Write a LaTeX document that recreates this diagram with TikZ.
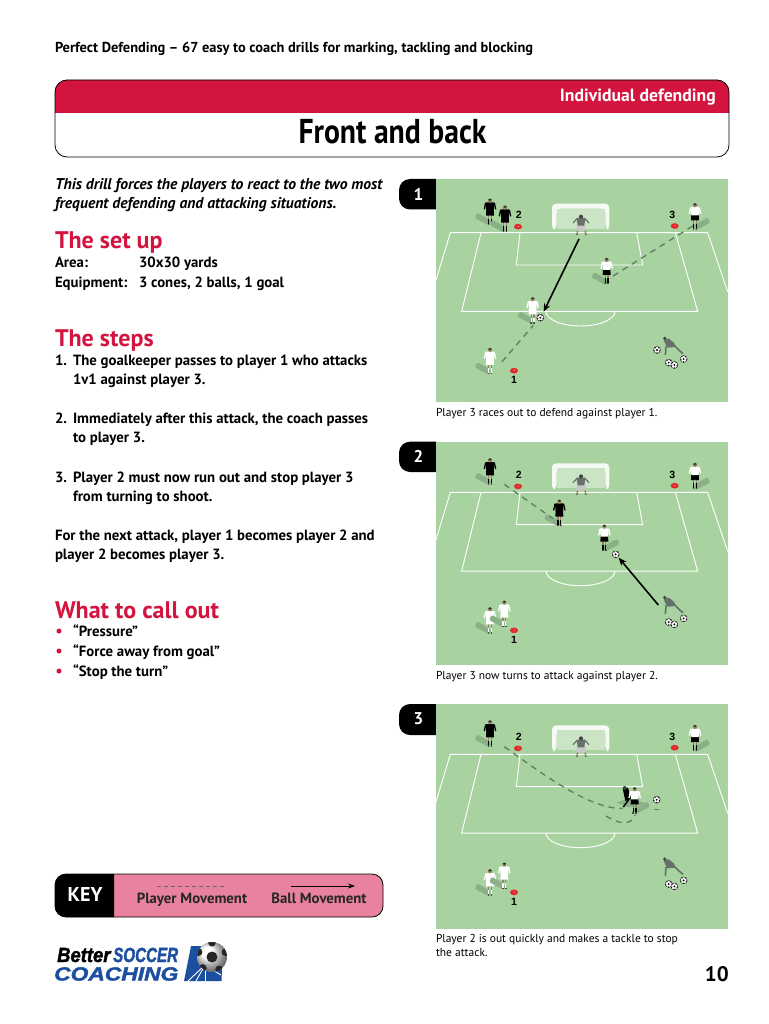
\documentclass[tikz,border=0pt]{standalone}
\usepackage{fontspec}
\setmainfont{PT Sans}
\newfontfamily\condfont[FakeStretch=0.86]{PT Sans}
\newfontfamily\logofa[FakeBold=1.6,FakeStretch=0.9]{Liberation Sans}
\newfontfamily\logofb[FakeBold=1.6,FakeStretch=0.74]{Liberation Sans}
\newfontfamily\logofc[FakeBold=2,FakeStretch=1.2]{Liberation Sans}
\newfontfamily\numfont{Liberation Sans}
\usetikzlibrary{arrows.meta,shapes.geometric}
\definecolor{brandred}{HTML}{D2143F}
\definecolor{keypink}{HTML}{E8829F}
\definecolor{pitch}{HTML}{A8D2A0}
\definecolor{shadowc}{HTML}{8AB088}
\definecolor{skin}{HTML}{A08068}
\definecolor{kitgrey}{HTML}{66706A}
\definecolor{dashc}{HTML}{5E8463}
\definecolor{logoblue}{HTML}{1C4FA0}
\definecolor{netc}{HTML}{CBE4C6}
\definecolor{conec}{HTML}{E5262B}
\tikzset{
 x=1pt,y=-1pt,
 txt/.style={anchor=base west,inner sep=0pt,outer sep=0pt},
 bodytxt/.style={txt,font=\fontsize{14.8}{15}\selectfont\bfseries},
 italtxt/.style={txt,font=\fontsize{15.6}{16}\selectfont\bfseries\itshape},
 headtxt/.style={txt,text=brandred,font=\fontsize{24}{24}\selectfont\bfseries},
 captxt/.style={txt,font=\fontsize{11.5}{12}\selectfont},
 numtxt/.style={inner sep=0pt,font=\numfont\fontsize{10.5}{11}\selectfont\bfseries},
 badgenum/.style={inner sep=0pt,text=white,font=\fontsize{17}{17}\selectfont\bfseries},
 keytxt/.style={anchor=base,inner sep=0pt,font=\fontsize{14.8}{15}\selectfont\bfseries,text=black!85},
 fieldline/.style={draw=white,line width=0.95pt,line join=miter},
 movedash/.style={draw=dashc,line width=1.4pt,dash pattern=on 6pt off 5pt},
 passarrow/.style={draw=black,line width=1.6pt,-{Stealth[length=8pt,width=6.5pt]}},
 bullet/.style={circle,fill=brandred,inner sep=0pt,minimum size=5pt},
}
% player: x, y (feet), shirt, shorts, shadow direction (+1/-1), sock colour
\newcommand\plyr[6]{\begin{scope}[shift={(#1,#2)}]
 \fill[shadowc,rounded corners=2pt] (0,4) -- (#5*46,-20) -- (#5*38,-36) -- (#5*-4,-12) -- cycle;
 \draw[skin,line width=1.5pt] (-4,-32) -- (-4,-14);
 \draw[skin,line width=1.5pt] (4,-32) -- (4,-14);
 \draw[#6,line width=1.5pt] (-4,-17) -- (-4,-2);
 \draw[#6,line width=1.5pt] (4,-17) -- (4,-2);
 \fill[black!70] (-7,-3) rectangle (-2,1);
 \fill[black!70] (2,-3) rectangle (7,1);
 \fill[#4] (-11,-46) -- (11,-46) -- (12,-27) -- (1,-27) -- (0,-31) -- (-1,-27) -- (-12,-27) -- cycle;
 \fill[#3] (-13,-67) -- (13,-67) -- (11,-42) -- (-11,-42) -- cycle;
 \draw[#3,line width=1.3pt] (-13,-65) -- (-17,-46);
 \draw[#3,line width=1.3pt] (13,-65) -- (17,-46);
 \fill[skin] (0,-72) circle (6);
 \fill[black!80] (0,-75) ellipse (5.5 and 3.5);
\end{scope}}
\newcommand\keeper[2]{\begin{scope}[shift={(#1,#2)}]
 \draw[skin,line width=1.4pt] (-12,0) -- (-10,-16);
 \draw[skin,line width=1.4pt] (14,0) -- (12,-16);
 \fill[black!60] (-15,-2) rectangle (-9,1);
 \fill[black!60] (11,-2) rectangle (17,1);
 \fill[black!22] (-12,-30) -- (12,-30) -- (15,-12) -- (-15,-12) -- cycle;
 \fill[kitgrey] (-13,-50) -- (13,-50) -- (10,-27) -- (-10,-27) -- cycle;
 \draw[kitgrey,line width=1.2pt] (-12,-48) -- (-24,-35);
 \draw[kitgrey,line width=1.2pt] (12,-48) -- (24,-35);
 \fill[black!75] (0,-54) circle (6);
\end{scope}}
\newcommand\coach[2]{\begin{scope}[shift={(#1,#2)}]
 \fill[kitgrey,rounded corners=1pt] (-3,3) -- (12,0) -- (30,14) -- (33,26) -- (8,28) -- cycle;
 \draw[kitgrey,line width=1.6pt] (28,20) -- (42,34) -- (56,46);
 \draw[kitgrey,line width=1.6pt] (5,24) -- (3,50);
 \fill[black!75] (1,0) circle (5);
\end{scope}}
\newcommand\ballat[2]{\begin{scope}[shift={(#1,#2)}]
 \fill[white] (0,0) circle (10.5);
 \draw[black,line width=0.35pt] (0,0) circle (10.5);
 \fill[black] (0,0) circle (3.2);
 \foreach \a in {90,162,234,306,18}{\fill[black] (\a:8.5) circle (2);}
\end{scope}}
\newcommand\coneat[2]{\begin{scope}[shift={(#1,#2)}]
 \fill[conec] (0,0) ellipse (12 and 8.5);
 \fill[white!80!red] (1,-1) circle (1.8);
\end{scope}}
\newcommand\pitchbase[3]{% name prefix, top, bottom (local)
 \fill[pitch] (120,#2) rectangle (995,#3);
 \fill[white!88!pitch,rounded corners=4pt] (468,180) -- (468,101) -- (640,101) -- (640,180) -- (628,176) -- (628,116) -- (482,116) -- (482,176) -- cycle;
 \fill[netc] (482,116) rectangle (628,176);
 \draw[fieldline] (120,330) -- (163,188) -- (935,188) -- (995,365);
 \draw[fieldline] (255,188) -- (197,424) -- (905,424) -- (838,188);
 \draw[fieldline] (372,188) -- (361,285) -- (740,285) -- (722,188);
 \draw[fieldline] (450,424) arc[start angle=180,end angle=0,x radius=103.5,y radius=44];
 \coneat{366}{170}\coneat{836}{168}
 \node[numtxt] (#1two) at (368,136) {2};
 \node[numtxt] (#1three) at (829,136) {3};
 \node[numtxt] (#1one) at (354,631) {1};
 \coneat{354}{602}
 \plyr{897}{178}{white}{black}{1}{black}
 \keeper{555}{194}
 \plyr{282}{164}{black}{black}{-1}{black}
}
\begin{document}
\begin{tikzpicture}
\useasboundingbox (0,0) rectangle (768,1024);
\fill[white] (0,0) rectangle (768,1024);

\node[txt,font=\fontsize{14.4}{15}\selectfont\bfseries] (runhead) at (55,53) {Perfect Defending -- 67 easy to coach drills for marking, tackling and blocking};

% banner
\begin{scope}
 \clip (50,75) rectangle (735,113);
 \fill[brandred,rounded corners=12pt] (55,80) rectangle (729,157);
\end{scope}
\draw[black,line width=0.8pt,rounded corners=12pt] (55,80) rectangle (729,157);
\node[anchor=base east,inner sep=0pt,text=white,font=\fontsize{17.7}{18}\selectfont\bfseries] (section) at (716,102) {Individual defending};
\node[anchor=base,inner sep=0pt,font=\condfont\fontsize{34.5}{35}\selectfont\bfseries] (title) at (392.5,144) {Front and back};

% left column
\node[italtxt] (intro1) at (55,190) {This drill forces the players to react to the two most};
\node[italtxt] (intro2) at (55,209) {frequent defending and attacking situations.};
\node[headtxt] (setup) at (55,248) {The set up};
\node[bodytxt] (area) at (55,267) {Area:};
\node[bodytxt] (areav) at (139,267) {30x30 yards};
\node[bodytxt] (equip) at (55,287) {Equipment:};
\node[bodytxt] (equipv) at (139,287) {3 cones, 2 balls, 1 goal};
\node[headtxt] (steps) at (55,346) {The steps};
\node[bodytxt] (n1) at (55,365) {1.};
\node[bodytxt] (s1a) at (73,365) {The goalkeeper passes to player 1 who attacks};
\node[bodytxt] (s1b) at (73,384) {1v1 against player 3.};
\node[bodytxt] (n2) at (55,423) {2.};
\node[bodytxt] (s2a) at (73,423) {Immediately after this attack, the coach passes};
\node[bodytxt] (s2b) at (73,442) {to player 3.};
\node[bodytxt] (n3) at (55,482) {3.};
\node[bodytxt] (s3a) at (73,482) {Player 2 must now run out and stop player 3};
\node[bodytxt] (s3b) at (73,501) {from turning to shoot.};
\node[bodytxt] (nx1) at (55,540) {For the next attack, player 1 becomes player 2 and};
\node[bodytxt] (nx2) at (55,559) {player 2 becomes player 3.};
\node[headtxt] (call) at (55,618) {What to call out};
\node[bullet] (b1) at (59,631) {};
\node[bullet] (b2) at (59,651) {};
\node[bullet] (b3) at (59,671) {};
\node[bodytxt] (c1) at (73,636) {“Pressure”};
\node[bodytxt] (c2) at (73,656) {“Force away from goal”};
\node[bodytxt] (c3) at (73,676) {“Stop the turn”};

% key
\fill[keypink,rounded corners=11pt] (55,874) rectangle (383,917);
\fill[black] (114,874) [rounded corners=11pt] -- (55,874) -- (55,917) [sharp corners] -- (114,917) -- cycle;
\draw[black,line width=0.8pt,rounded corners=11pt] (55,874) rectangle (383,917);
\node[inner sep=0pt,text=white,font=\fontsize{20}{20}\selectfont\bfseries] (keyword) at (85,894) {KEY};
\node[keytxt] (kplayer) at (192,903) {Player Movement};
\node[keytxt] (kball) at (319,903) {Ball Movement};
\coordinate (kd1) at (157,886); \coordinate (kd2) at (226,886);
\coordinate (ka1) at (291,886); \coordinate (ka2) at (355,886);
\draw[black!60,line width=0.9pt,dash pattern=on 3.5pt off 3.5pt] (kd1) -- (kd2);
\draw[black,line width=0.9pt,-{Stealth[length=7pt,width=5pt]}] (ka1) -- (ka2);

% logo
\fill[logoblue] (191,946) -- (223,946) -- (221.5,981) -- (184,981) -- cycle;
\foreach \b in {188,196,205}{\draw[white,line width=0.9pt] (205,965) -- (\b,981);}
\draw[white,line width=0.9pt] (205,965) -- (221,975);
\node[anchor=base west,inner sep=0pt,font=\logofa\fontsize{20.5}{21}\selectfont\bfseries\itshape] (logoa) at (57,962) {Better};
\node[anchor=base west,inner sep=0pt,text=logoblue,font=\logofb\fontsize{20.5}{21}\selectfont\bfseries\itshape] (logob) at (113,962) {SOCCER};
\node[anchor=base west,inner sep=0pt,text=logoblue,font=\logofc\fontsize{19}{20}\selectfont\bfseries\itshape] (logoc) at (54,980.5) {COACHING};
\begin{scope}
 \clip (212,957) circle (15);
 \shade[ball color=white] (212,957) circle (15);
 \fill[black!85] (212,957) circle (5.5);
 \foreach \a in {60,130,200,270,340}{\fill[black!85] (212,957) ++(\a:14.5) circle (4);}
\end{scope}

% badges
\foreach \t/\b in {179/209.5,441.7/472,704/735}{
 \fill[black] (436,\t) [rounded corners=11pt] -- (399,\t) -- (399,\b) [sharp corners] -- (436,\b) -- cycle;
}
\node[badgenum] (bn1) at (418.5,194) {1};
\node[badgenum] (bn2) at (418.5,456) {2};
\node[badgenum] (bn3) at (418.5,719) {3};

% field 1
\begin{scope}[shift={(396,170)},scale=1/3]
 \pitchbase{fa}{27}{697}
 \plyr{327}{185}{black}{black}{-1}{black}
 \plyr{632}{342}{white}{black}{-1}{black}
 \plyr{410}{460}{white}{white}{-1}{white}
 \plyr{282}{612}{white}{white}{-1}{white}
 \coach{805}{505}
 \ballat{433}{443}\ballat{783}{540}\ballat{818}{578}\ballat{835}{585}\ballat{863}{567}
 \coordinate (fap1) at (549,207); \coordinate (fap2) at (443,425);
 \coordinate (fad1) at (890,168); \coordinate (fad2) at (640,325);
 \coordinate (fad3) at (318,575); \coordinate (fad4) at (412,466);
 \draw[passarrow] (fap1) -- (fap2);
 \draw[movedash] (fad1) -- (fad2);
 \draw[movedash] (fad3) -- (fad4);
\end{scope}
\node[captxt] (cap1) at (436,416) {Player 3 races out to defend against player 1.};

% field 2
\begin{scope}[shift={(396,429.7)},scale=1/3]
 \pitchbase{fb}{36}{706}
 \plyr{490}{288}{black}{black}{-1}{black}
 \plyr{625}{363}{white}{black}{1}{black}
 \plyr{282}{611}{white}{white}{-1}{white}
 \plyr{325}{591}{white}{white}{-1}{white}
 \coach{805}{503}
 \ballat{659}{374}\ballat{818}{577}\ballat{835}{584}\ballat{863}{566}
 \coordinate (fbp1) at (787,526); \coordinate (fbp2) at (668,384);
 \coordinate (fbd1) at (325,164); \coordinate (fbd2) at (470,266);
 \draw[passarrow] (fbp1) -- (fbp2);
 \draw[movedash] (fbd1) -- (fbd2);
\end{scope}
\node[captxt] (cap2) at (436,679) {Player 3 now turns to attack against player 2.};

% field 3
\begin{scope}[shift={(396,691.7)},scale=1/3]
 \pitchbase{fc}{37}{711}
 \plyr{282}{611}{white}{white}{-1}{white}
 \plyr{325}{591}{white}{white}{-1}{white}
 \coach{805}{502}
 \ballat{782}{324}\ballat{818}{577}\ballat{835}{584}\ballat{863}{566}
 \draw[dashc,line width=0.5pt] (774,353) -- (790,353);
 \coordinate (fcd1) at (325,165); \coordinate (fcd2) at (680,350);
 \coordinate (fcd3) at (630,373); \coordinate (fcd4) at (718,370);
 \draw[movedash] (fcd1) .. controls (470,270) and (590,352) .. (fcd2);
 \draw[movedash] (fcd3) .. controls (665,395) and (705,405) .. (fcd4);
 % sliding defender
 \begin{scope}[shift={(690,340)}]
  \fill[shadowc,rounded corners=2pt] (-30,-8) -- (10,-20) -- (60,-5) -- (10,8) -- cycle;
  \fill[black] (-10,-50) -- (6,-52) -- (16,-18) -- (-2,-12) -- cycle;
  \draw[black,line width=1.5pt] (8,-16) -- (-8,6);
  \fill[black!75] (-4,-51) circle (6);
 \end{scope}
 \plyr{716}{365}{white}{black}{1}{black}
\end{scope}
\node[captxt] (cap3a) at (436,942) {Player 2 is out quickly and makes a tackle to stop};
\node[captxt] (cap3b) at (436,956) {the attack.};
\node[anchor=base east,inner sep=0pt,font=\fontsize{21}{21}\selectfont\bfseries] (pageno) at (729,981) {10};
\end{tikzpicture}
\end{document}
